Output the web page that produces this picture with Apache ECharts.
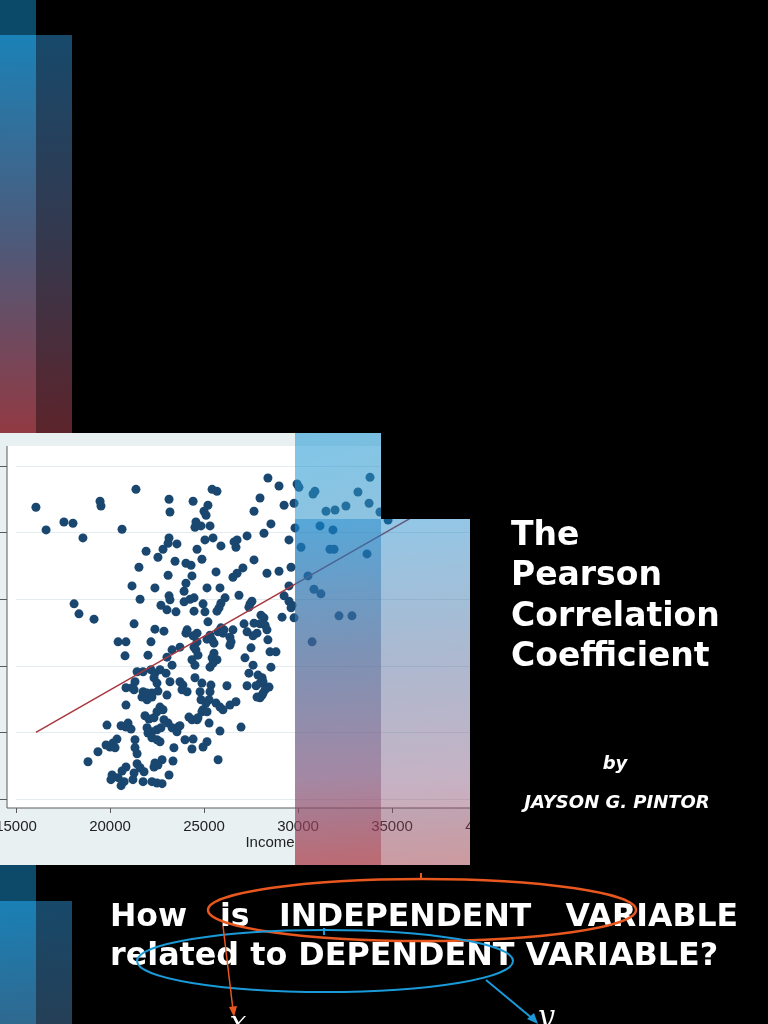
<!DOCTYPE html>
<html><head><meta charset="utf-8">
<script src="https://cdn.jsdelivr.net/npm/echarts@6/dist/echarts.min.js"></script>
<style>html,body{margin:0;padding:0;background:#000;}#chart{width:768px;height:1024px;}</style>
</head><body><div id="chart"></div>
<script>
// ---- data ----
const incomeValues = [
16060,16600,17550,18030,18560,19470,19520,21380,20640,23140,
23190,23140,23090,22820,23560,21920,22550,21540,23460,23090,
21170,22390,23140,23190,21600,22710,23030,23510,18090,18350,
19150,21280,22390,22870,28400,28990,29950,30050,25430,25690,
30800,30900,24420,27980,29260,29790,25210,25000,25110,27660,
24570,24520,24840,25320,28560,29840,28190,31170,31860,33190,
33830,33780,31490,31970,32550,25480,25050,27290,26760,26600,
26700,29520,25900,24630,30160,31700,31920,33670,27660,24890,
24040,24310,29630,25640,27070,26760,26540,28350,28990,24360,
30530,24040,25160,25850,29520,30850,31220,23940,26860,24470,
24260,23940,27550,27450,29260,29520,29680,29630,24950,26120,
25900,25800,25690,27390,24470,25050,28030,28190,29150,29790,
32180,32870,25210,27130,27660,27980,28250,25900,26060,26010,
25750,26540,24100,24040,27290,28350,27820,27610,25320,25160,
24630,24420,26380,30750,34360,34790,
20430,20850,22180,20800,22020,23300,23720,23030,23300,21440,
21760,22180,22390,22660,22980,21330,22340,22500,23190,20850,
21170,21280,21760,21970,22230,22550,23030,21700,21970,22230,
20850,22660,22820,22500,21860,22070,22340,22870,23090,19840,
20590,20850,21120,20960,21970,22230,22500,22710,23300,23620,
23560,22020,22230,22500,22660,21330,20370,20160,20000,19790,
20270,19360,21330,21440,18830,23400,22770,22550,22340,22390,
23350,21440,21600,20850,20640,20110,20050,20430,21280,21220,
21810,23140,20590,20750,21760,22230,22500,22770,
24630,25430,25530,26380,26440,27500,28400,28510,28830,24470,
24570,24680,24360,24520,25530,25430,25690,25320,25480,27180,
27610,28560,27390,27870,28090,28140,27980,23720,23880,24100,
23830,24890,25370,24790,25320,26220,27290,27770,28460,28250,
28090,27820,27980,28140,24520,24840,25270,25110,24950,24890,
25160,25640,25850,26010,26380,26700,24200,24360,24630,24680,
25270,25850,26970,23720,23990,24420,25160,24950,24360,25750
];
const outcomeValues = [
63.8,60.4,61.6,61.4,59.2,64.7,64.0,66.5,60.5,65.0,
63.1,59.2,58.4,57.5,58.3,57.2,56.3,54.8,55.7,53.6,
52.0,51.7,50.5,49.9,50.0,49.1,48.4,48.1,49.3,47.8,
47.0,46.3,45.5,45.2,68.2,67.0,67.3,66.8,66.5,66.2,
65.8,66.2,64.7,65.2,64.1,64.4,64.1,63.2,62.6,63.2,
61.6,60.8,61.0,61.0,61.3,60.7,59.9,61.0,60.4,66.1,
68.3,64.4,63.2,63.4,64.0,59.2,58.9,59.5,58.9,58.6,
57.8,58.9,58.0,57.5,57.8,57.5,57.5,56.8,55.9,56.0,
55.4,55.1,54.8,54.1,54.7,53.9,53.3,53.9,54.2,53.5,
53.5,52.4,51.7,51.7,52.0,51.5,50.8,51.2,50.6,50.2,
50.0,49.6,49.7,49.3,50.5,49.7,49.1,48.7,49.3,50.2,
49.4,48.7,48.2,48.8,48.2,48.1,47.6,47.2,47.3,47.2,
47.5,47.5,46.6,46.3,46.4,46.3,46.1,45.7,45.4,44.9,
45.1,45.4,45.4,44.9,45.1,45.4,44.9,44.5,44.6,44.0,
44.9,44.5,44.3,43.6,63.1,61.9,
43.6,43.6,43.6,41.5,41.6,42.4,42.8,41.3,40.1,39.1,
39.1,39.4,38.9,39.4,38.9,37.6,38.2,37.4,37.6,36.7,
36.7,36.4,36.1,35.9,35.9,36.2,35.6,35.3,34.9,35.3,
34.1,33.8,33.4,33.1,32.5,32.0,32.2,31.9,31.4,31.1,
31.0,30.8,30.5,31.4,30.7,30.1,30.4,30.7,30.7,30.8,
30.1,29.9,29.2,28.9,28.6,28.9,29.0,28.4,27.8,28.1,
27.7,27.1,27.7,26.8,25.6,27.7,25.9,25.1,24.8,25.4,
25.7,25.3,24.7,24.8,24.2,23.6,22.9,23.2,23.9,22.9,
24.1,23.6,22.0,22.6,22.6,22.6,22.4,22.3,
43.6,43.9,43.4,43.1,43.6,42.7,43.9,42.1,42.1,42.8,
42.4,41.6,40.9,40.1,41.9,41.2,40.9,39.8,40.4,41.2,
40.1,39.8,38.9,38.6,38.2,37.6,37.4,37.6,37.1,36.1,
36.4,37.4,37.1,36.1,36.1,37.0,37.0,37.0,36.8,36.4,
35.6,35.3,35.2,35.9,38.2,34.9,34.9,34.4,33.4,33.1,
33.1,34.4,33.8,33.4,34.1,34.6,32.3,31.9,31.9,32.2,
31.4,30.2,30.8,31.0,28.9,29.0,28.6,27.8,27.5,25.9
];
const fitIncome = [16060, 36500];
const fitOutcome = [30.0, 63.0];
const xTickValues = [15000, 20000, 25000, 30000, 35000, 40000];
const xAxisTitle = 'Income';
const titleLines = ['The', 'Pearson', 'Correlation', 'Coefficient'];
const byLine = 'by';
const authorLine = 'JAYSON G. PINTOR';
const questionLine1 = ['How', 'is', 'INDEPENDENT', 'VARIABLE'];
const questionLine2 = 'related to DEPENDENT VARIABLE?';

// ---- helpers ----
function grad(stops, x2, y2) {
  return { type: 'linear', x: 0, y: 0, x2: x2, y2: y2,
    colorStops: stops.map(s => ({ offset: s[0], color: s[1] })) };
}
const overlayGrad = a => grad([
  [0, 'rgba(15,130,200,' + a + ')'],
  [0.4, 'rgba(70,100,150,' + a + ')'],
  [0.75, 'rgba(125,85,125,' + a + ')'],
  [1, 'rgba(168,50,62,' + a + ')']
], 0.3, 1);

const titleFont = 'bold 33px "DejaVu Sans"';
const qFont = 'bold 31.5px "DejaVu Sans"';
const graphics = [
  // chart frame backgrounds
  { type: 'rect', z: 0, shape: { x: 0, y: 433, width: 470, height: 432 }, style: { fill: '#e9f0f2' } },
  { type: 'rect', z: 0, shape: { x: 7, y: 446, width: 463, height: 362 }, style: { fill: '#ffffff' } },
  { type: 'polyline', z: 5, shape: { points: [[7, 446], [7, 808], [470, 808]] }, style: { stroke: '#5a5a5a', lineWidth: 1, fill: null } },
  // overlays over the chart
  { type: 'rect', z: 10, shape: { x: 295, y: 433, width: 86, height: 86 },
    style: { fill: grad([[0, 'rgba(24,151,213,0.55)'], [1, 'rgba(45,146,199,0.55)']], 0.3, 1) } },
  { type: 'rect', z: 10, shape: { x: 295, y: 519, width: 86, height: 346 }, style: { fill: overlayGrad(0.7) } },
  { type: 'rect', z: 10, shape: { x: 381, y: 519, width: 89, height: 346 }, style: { fill: overlayGrad(0.45) } },
  // black masks
  { type: 'rect', z: 11, shape: { x: 381, y: 430, width: 387, height: 89 }, style: { fill: '#000' } },
  { type: 'rect', z: 11, shape: { x: 470, y: 430, width: 298, height: 440 }, style: { fill: '#000' } },
  // left decorations (top)
  { type: 'rect', z: 12, shape: { x: 0, y: 0, width: 36, height: 35 }, style: { fill: '#0c4a6a' } },
  { type: 'rect', z: 12, shape: { x: 0, y: 35, width: 36, height: 398 },
    style: { fill: grad([[0, '#1b82b7'], [0.5, '#4b5b7c'], [1, '#913a43']], 0.2, 1) } },
  { type: 'rect', z: 12, shape: { x: 36, y: 35, width: 36, height: 398 },
    style: { fill: grad([[0, '#17496b'], [0.5, '#33394f'], [1, '#5c242b']], 0.2, 1) } },
  // left decorations (bottom)
  { type: 'rect', z: 12, shape: { x: 0, y: 865, width: 36, height: 36 }, style: { fill: '#0d4a6a' } },
  { type: 'rect', z: 12, shape: { x: 0, y: 901, width: 36, height: 123 },
    style: { fill: grad([[0, '#1a80b5'], [1, '#2f6990']], 0.2, 1) } },
  { type: 'rect', z: 12, shape: { x: 36, y: 901, width: 36, height: 123 },
    style: { fill: grad([[0, '#17496a'], [1, '#253f57']], 0.2, 1) } },
  // title texts
  ...titleLines.map((t, i) => ({ type: 'text', z: 20, x: 511, y: 536 + i * 40.5,
    style: { text: t, fill: '#ffffff', font: titleFont, align: 'left', verticalAlign: 'middle' } })),
  { type: 'text', z: 20, x: 615, y: 764, style: { text: byLine, fill: '#fff', font: 'italic bold 18px "DejaVu Sans"', align: 'center', verticalAlign: 'middle' } },
  { type: 'text', z: 20, x: 617, y: 803, style: { text: authorLine, fill: '#fff', font: 'italic bold 18px "DejaVu Sans"', align: 'center', verticalAlign: 'middle' } },
  // question
  { type: 'text', z: 20, x: 110, y: 918, style: { text: questionLine1[0], fill: '#fff', font: qFont, align: 'left', verticalAlign: 'middle' } },
  { type: 'text', z: 20, x: 220, y: 918, style: { text: questionLine1[1], fill: '#fff', font: qFont, align: 'left', verticalAlign: 'middle' } },
  { type: 'text', z: 20, x: 279, y: 918, style: { text: questionLine1[2], fill: '#fff', font: qFont, align: 'left', verticalAlign: 'middle' } },
  { type: 'text', z: 20, x: 738, y: 918, style: { text: questionLine1[3], fill: '#fff', font: qFont, align: 'right', verticalAlign: 'middle' } },
  { type: 'text', z: 20, x: 110, y: 957, style: { text: questionLine2, fill: '#fff', font: 'bold 31.8px "DejaVu Sans"', align: 'left', verticalAlign: 'middle' } },
  // ellipses and arrows
  { type: 'ellipse', z: 25, shape: { cx: 422, cy: 910, rx: 214, ry: 31 }, style: { stroke: '#e8571e', lineWidth: 2.5, fill: null } },
  { type: 'line', z: 25, shape: { x1: 421, y1: 873, x2: 421, y2: 880 }, style: { stroke: '#e8571e', lineWidth: 2 } },
  { type: 'ellipse', z: 25, shape: { cx: 325, cy: 961, rx: 188, ry: 31 }, style: { stroke: '#1a9ad8', lineWidth: 2, fill: null } },
  { type: 'line', z: 25, shape: { x1: 324, y1: 928, x2: 324, y2: 935 }, style: { stroke: '#1a9ad8', lineWidth: 2 } },
  { type: 'line', z: 25, shape: { x1: 223, y1: 926, x2: 233, y2: 1010 }, style: { stroke: '#e8571e', lineWidth: 1.5 } },
  { type: 'polygon', z: 25, shape: { points: [[229, 1007], [234, 1017], [237, 1006]] }, style: { fill: '#e8571e' } },
  { type: 'line', z: 25, shape: { x1: 486, y1: 980, x2: 533, y2: 1019 }, style: { stroke: '#1a9ad8', lineWidth: 2 } },
  { type: 'polygon', z: 25, shape: { points: [[527, 1019], [538, 1024], [534, 1013]] }, style: { fill: '#1a9ad8' } },
  { type: 'text', z: 25, x: 546, y: 1003, style: { text: 'y', fill: '#fff', font: 'italic 30px "DejaVu Serif"', align: 'center', verticalAlign: 'top' } },
  { type: 'text', z: 25, x: 238, y: 1009, style: { text: 'x', fill: '#fff', font: 'italic 30px "DejaVu Serif"', align: 'center', verticalAlign: 'top' } }
];

const option = {
  backgroundColor: '#000000',
  animation: false,
  grid: { left: 16, top: 466, width: 470, height: 333, containLabel: false, outerBoundsMode: 'none' },
  xAxis: {
    type: 'value', min: xTickValues[0], max: xTickValues[xTickValues.length - 1], interval: 5000,
    offset: 9, z: 1,
    name: xAxisTitle, nameLocation: 'middle', nameGap: 25,
    nameTextStyle: { color: '#222222', fontSize: 15, fontFamily: '"Liberation Sans", Arial', padding: [0, 0, 0, 38] },
    axisLine: { show: false },
    axisTick: { show: true, length: 5, lineStyle: { color: '#5a5a5a', width: 1 } },
    axisLabel: { color: '#222222', fontSize: 15, fontFamily: '"Liberation Sans", Arial', margin: 11,
      formatter: v => String(v) },
    splitLine: { show: false }
  },
  yAxis: {
    type: 'value', min: 20, max: 70, interval: 10, offset: 9, z: 1,
    axisLine: { show: false },
    axisTick: { show: true, length: 7, lineStyle: { color: '#5a5a5a', width: 1 } },
    axisLabel: { show: false },
    splitLine: { show: true, lineStyle: { color: '#e3ecef', width: 1.2 } }
  },
  graphic: { elements: graphics },
  series: [
    {
      type: 'scatter', z: 2,
      data: incomeValues.map((x, i) => [x, outcomeValues[i]]),
      symbol: 'circle', symbolSize: 9,
      itemStyle: { color: '#1a476f', opacity: 1 }
    },
    {
      type: 'line', z: 3,
      data: fitIncome.map((x, i) => [x, fitOutcome[i]]),
      showSymbol: false, symbol: 'none',
      lineStyle: { color: '#a8363f', width: 1.5 }
    }
  ]
};
const chart = echarts.init(document.getElementById('chart'), null, { renderer: 'canvas' });
chart.setOption(option);
</script>
</body></html>
